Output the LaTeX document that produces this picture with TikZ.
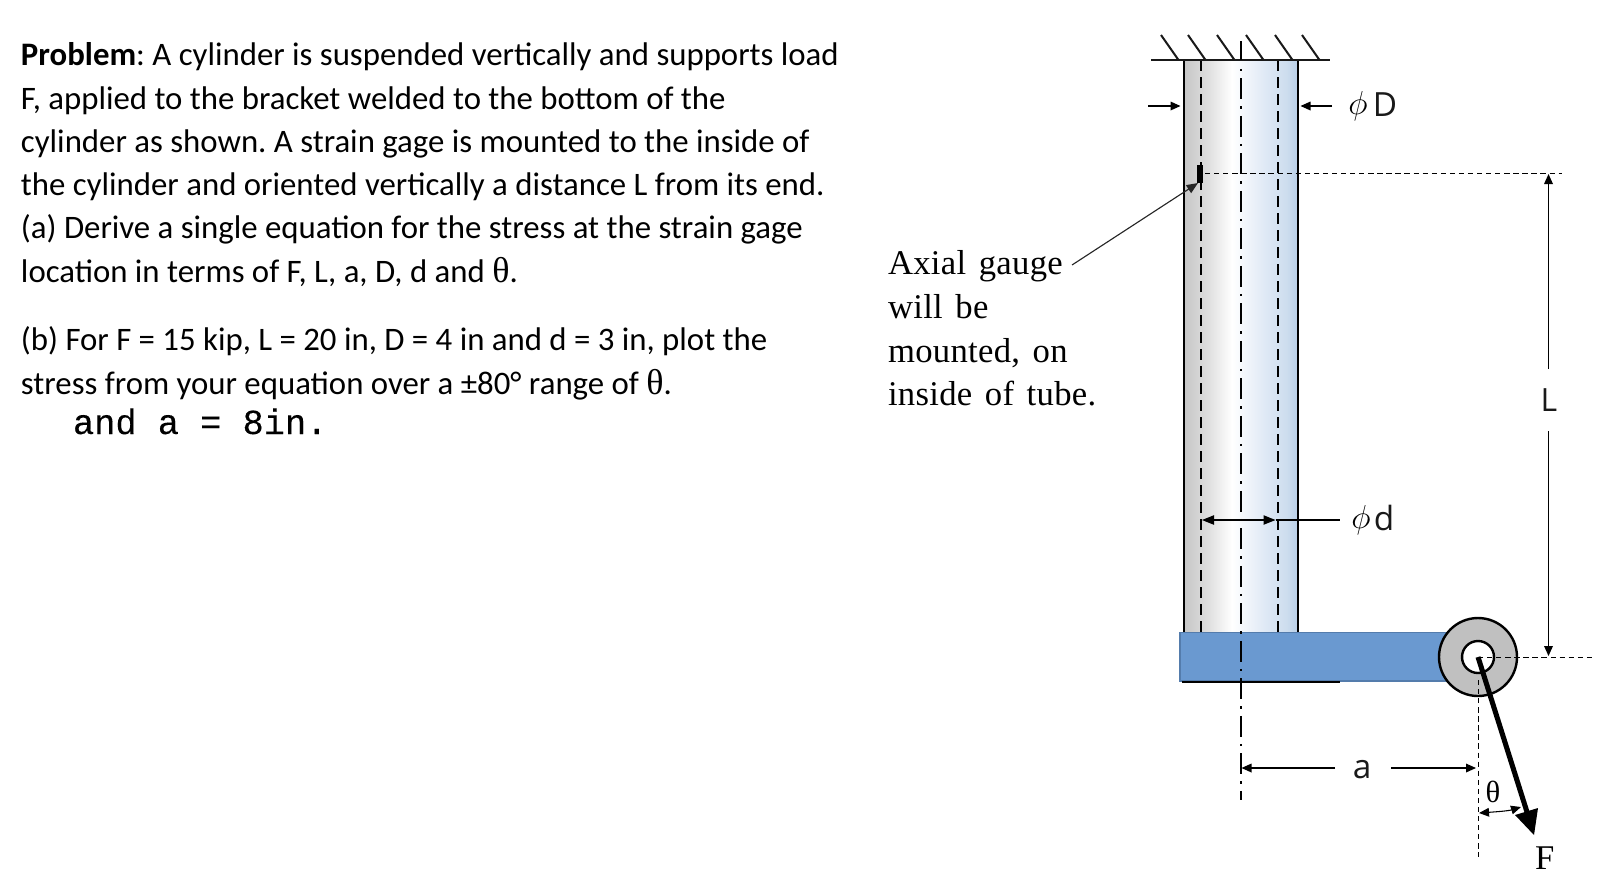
\documentclass[tikz,border=0pt]{standalone}
\usepackage{fontspec}
\setmainfont{Carlito}
\newfontfamily\serifface{Liberation Serif}
\newfontfamily\noteface[LetterSpace=0.9,WordSpace=1.4]{Liberation Serif}
\newfontfamily\monoface[FakeBold=0.2]{Liberation Mono}
\newfontfamily\labelface{Open Sans}
\usetikzlibrary{arrows.meta}
\definecolor{brfill}{RGB}{106,153,208}
\definecolor{brline}{RGB}{84,124,172}
\definecolor{ringgray}{RGB}{192,192,192}
\definecolor{cylgray}{RGB}{198,198,198}
\definecolor{cylgrayb}{RGB}{224,224,224}
\definecolor{cylbluea}{RGB}{222,232,245}
\definecolor{cylblueb}{RGB}{205,221,238}
\definecolor{cylblue}{RGB}{184,207,232}
\pgfdeclarehorizontalshading{cyl}{100bp}{
  color(0bp)=(cylgray); color(25bp)=(cylgray); color(36bp)=(cylgrayb); color(46bp)=(white);
  color(61bp)=(cylbluea); color(70bp)=(cylblueb); color(75bp)=(cylblue); color(100bp)=(cylblue)}
\tikzset{
  txt/.style={anchor=base west,inner sep=0pt,outer sep=0pt,text=black},
  body/.style={txt,font=\frenchspacing\fontsize{24.6}{30}\selectfont},
  note/.style={txt,font=\noteface\fontsize{26}{30}\selectfont},
  lab/.style={inner sep=0pt,outer sep=0pt,font=\labelface\fontsize{25}{28}\selectfont,text=black!90},
  dimline/.style={line width=.9pt,black},
  dimtip/.style={-{Triangle[length=7.5pt,width=6.5pt]}},
  hatch/.style={line width=1.5pt,black!90},
  hidden/.style={line width=1.5pt,black,dash pattern=on 7.9pt off 4.85pt},
  center line/.style={line width=1.3pt,black,dash pattern=on 1.875pt off 5.25pt on 15.75pt off 5.25pt},
  thin dashed line/.style={line width=.75pt,black,dash pattern=on 4pt off 2.8pt},
  phisym/.style={inner sep=0pt,font=\fontsize{36}{40}\selectfont},
  bigdim/.style={lab,font=\labelface\fontsize{25}{28}\selectfont},
}
\begin{document}
\begin{tikzpicture}[x=.75pt,y=-.75pt]
\useasboundingbox (0,0) rectangle (1616,894);
% problem text
\node[body] (t1) at (21,65) {\textbf{Problem}: A cylinder is suspended vertically and supports load};
\node[body] (t2) at (21,109) {F, applied to the bracket welded to the bottom of the};
\node[body] (t3) at (21,152) {cylinder as shown. A strain gage is mounted to the inside of};
\node[body] (t4) at (21,195) {the cylinder and oriented vertically a distance L from its end.};
\node[body] (t5) at (21,238) {(a) Derive a single equation for the stress at the strain gage};
\node[body] (t6) at (21,282) {location in terms of F, L, a, D, d and {\serifface\fontsize{27}{30}\selectfont θ}.};
\node[body] (t7) at (21,350) {(b) For F = 15 kip, L = 20 in, D = 4 in and d = 3 in, plot the};
\node[body] (t8) at (21,394) {stress from your equation over a ±80° range of {\serifface\fontsize{27}{30}\selectfont θ}.};
\node[txt,font=\monoface\fontsize{26.5}{30}\selectfont] (t9) at (73,434) {and a = 8in.};
% coordinates
\coordinate (cylTL) at (1184,60);
\coordinate (cylTR) at (1298,60);
\coordinate (cylBL) at (1184,632);
\coordinate (cylBR) at (1298,632);
\coordinate (pin) at (1478,657);
\coordinate (gauge) at (1200,173);
% cylinder
\fill[shading=cyl] (cylTL) rectangle (cylBR);
\draw[line width=2.2pt,black] (cylTL) -- (cylBL) (cylTR) -- (cylBR);
% hidden lines
\draw[hidden] (1201,60) -- (1201,632);
\draw[hidden] (1277.5,60) -- (1277.5,632);
% bracket
\draw[brline,fill=brfill,line width=1.2pt] (1180,632.5) rectangle (1450,681);
\draw[black,line width=1.3pt] (1182,682) -- (1340,682);
% ground
\draw[hatch] (1151,60) -- (1330,60);
\foreach \hx in {1161,1188,1217,1246,1275,1302}
  \draw[hatch] (\hx,35) -- (\hx+17.5,60);
% centre line
\draw[line width=1.3pt,black] (1241,41) -- (1241,60);
\draw[center line] (1241,68.75) -- (1241,800);
% ring
\draw[black,fill=ringgray,line width=1.8pt] (pin) circle[radius=39];
\draw[black,fill=white,line width=1.8pt] (pin) circle[radius=16];
% gauge
\fill[black] (1197,165) rectangle (1203,183);
% extension lines
\draw[thin dashed line] (1205,173) -- (1562,173);
\draw[thin dashed line] (pin) -- (1592,657);
\draw[thin dashed line] (1478,680) -- (1478,857);
% D dimension
\coordinate (dla) at (1148,106); \coordinate (dlb) at (1180.5,106);
\coordinate (dra) at (1332,106); \coordinate (drb) at (1300.5,106);
\draw[dimline,dimtip] (dla) -- (dlb);
\draw[dimline,dimtip] (dra) -- (drb);
\node[phisym] (phiD) at (1358,106) {$\phi$};
\node[bigdim] (D) at (1385,105) {D};
% d dimension
\coordinate (ddl) at (1202,520); \coordinate (ddr) at (1275.5,520); \coordinate (dde) at (1340,520);
\draw[dimline,{Triangle[length=9pt,width=7pt]}-{Triangle[length=9pt,width=7pt]}] (ddl) -- (ddr);
\draw[dimline] (ddr) -- (dde);
\node[phisym] (phid) at (1361,520) {$\phi$};
\node[bigdim] (dlab) at (1384,518) {d};
% L dimension
\coordinate (La) at (1548.5,369); \coordinate (Lb) at (1548.5,174);
\coordinate (Lc) at (1548.5,431); \coordinate (Ld) at (1548.5,656);
\draw[dimline,dimtip] (La) -- (Lb);
\draw[dimline,dimtip] (Lc) -- (Ld);
\node[lab,font=\labelface\fontsize{24}{28}\selectfont] (Llab) at (1549,400) {L};
% a dimension
\coordinate (aa) at (1335,768); \coordinate (ab) at (1241.5,768);
\coordinate (ac) at (1391,768); \coordinate (ad) at (1476,768);
\draw[dimline,dimtip] (aa) -- (ab);
\draw[dimline,dimtip] (ac) -- (ad);
\node[lab] (alab) at (1362,770) {a};
% force
\coordinate (ftip) at (1534,835);
\draw[black,line width=3.8pt] (pin) -- (1527,812);
\fill[black] (ftip) -- (1515,815) -- (1538,808) -- cycle;
\node[txt,font=\serifface\fontsize{26}{30}\selectfont] (Flab) at (1535,869) {F};
% angle
\coordinate (tha) at (1479,813); \coordinate (thb) at (1521,807);
\draw[dimline,line width=.8pt,{Triangle[length=7.5pt,width=6.5pt]}-{Triangle[length=7.5pt,width=6.5pt]}] (tha) .. controls (1493,812) and (1508,811) .. (thb);
\node[inner sep=0pt,font=\serifface\fontsize{23}{26}\selectfont] (thlab) at (1493,792) {θ};
% note
\node[note] (n1) at (888,274) {Axial gauge};
\node[note] (n2) at (888,318) {will be};
\node[note] (n3) at (888,362) {mounted, on};
\node[note] (n4) at (888,405) {inside of tube.};
\coordinate (lead) at (1072,265);
\draw[line width=.85pt,black!85,-{Triangle[length=8.5pt,width=7pt]}] (lead) -- (1198,183);
\end{tikzpicture}
\end{document}
